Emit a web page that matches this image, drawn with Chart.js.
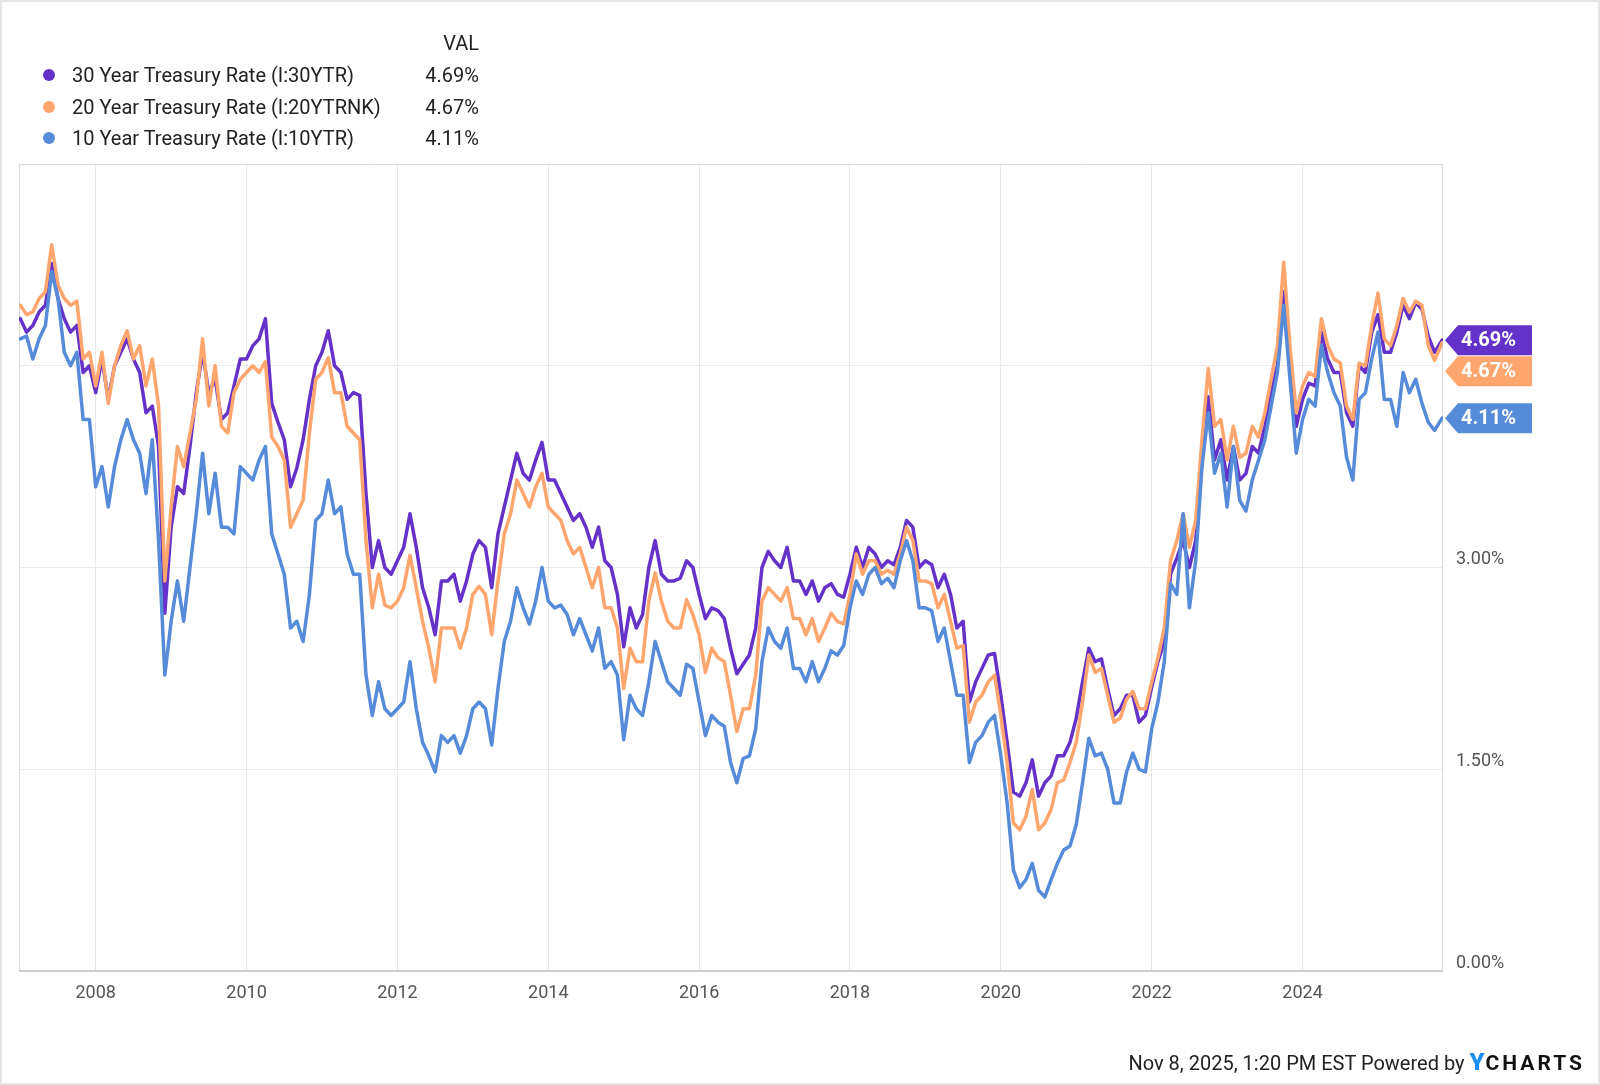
<!DOCTYPE html>
<html>
<head>
<meta charset="utf-8">
<script src="https://cdn.jsdelivr.net/npm/chart.js@4.4.0/dist/chart.umd.min.js"></script>
<style>
  html, body { margin: 0; padding: 0; background: #fff; }
  body { width: 1600px; height: 1085px; position: relative; overflow: hidden; font-family: Roboto, sans-serif; color: #222; }
  #frame { position: absolute; left: 0; top: 0; width: 1596px; height: 1081px; border: 2px solid #e6e6e6; pointer-events: none; }
  #ctx { position: absolute; left: 0; top: 0; }
  .lg { position: absolute; font-size: 20px; line-height: 24px; white-space: nowrap; }
  .dot { position: absolute; width: 12px; height: 12px; border-radius: 6px; }
  .val { position: absolute; font-size: 20px; line-height: 24px; text-align: right; width: 100px; }
  #foot { position: absolute; right: 15px; top: 1049px; font-size: 20px; line-height: 26px; white-space: nowrap; color: #222; }
  #foot .y { color: #1b8ef5; font-weight: 900; font-size: 24px; letter-spacing: 1px; }
  #foot .c { font-weight: 700; font-size: 21px; letter-spacing: 3px; color: #111; }
</style>
</head>
<body>
<canvas id="ctx" width="1600" height="1085"></canvas>
<div id="legend"></div>
<div id="foot">Nov 8, 2025, 1:20 PM EST Powered by <span class="y">Y</span><span class="c">CHARTS</span></div>
<div id="frame"></div>
<script>
// monthly readings, Jan 2007 .. Nov 7 2025
const dates = [
  "2007-01","2007-02","2007-03","2007-04","2007-05","2007-06","2007-07","2007-08","2007-09","2007-10","2007-11","2007-12",
  "2008-01","2008-02","2008-03","2008-04","2008-05","2008-06","2008-07","2008-08","2008-09","2008-10","2008-11","2008-12",
  "2009-01","2009-02","2009-03","2009-04","2009-05","2009-06","2009-07","2009-08","2009-09","2009-10","2009-11","2009-12",
  "2010-01","2010-02","2010-03","2010-04","2010-05","2010-06","2010-07","2010-08","2010-09","2010-10","2010-11","2010-12",
  "2011-01","2011-02","2011-03","2011-04","2011-05","2011-06","2011-07","2011-08","2011-09","2011-10","2011-11","2011-12",
  "2012-01","2012-02","2012-03","2012-04","2012-05","2012-06","2012-07","2012-08","2012-09","2012-10","2012-11","2012-12",
  "2013-01","2013-02","2013-03","2013-04","2013-05","2013-06","2013-07","2013-08","2013-09","2013-10","2013-11","2013-12",
  "2014-01","2014-02","2014-03","2014-04","2014-05","2014-06","2014-07","2014-08","2014-09","2014-10","2014-11","2014-12",
  "2015-01","2015-02","2015-03","2015-04","2015-05","2015-06","2015-07","2015-08","2015-09","2015-10","2015-11","2015-12",
  "2016-01","2016-02","2016-03","2016-04","2016-05","2016-06","2016-07","2016-08","2016-09","2016-10","2016-11","2016-12",
  "2017-01","2017-02","2017-03","2017-04","2017-05","2017-06","2017-07","2017-08","2017-09","2017-10","2017-11","2017-12",
  "2018-01","2018-02","2018-03","2018-04","2018-05","2018-06","2018-07","2018-08","2018-09","2018-10","2018-11","2018-12",
  "2019-01","2019-02","2019-03","2019-04","2019-05","2019-06","2019-07","2019-08","2019-09","2019-10","2019-11","2019-12",
  "2020-01","2020-02","2020-03","2020-04","2020-05","2020-06","2020-07","2020-08","2020-09","2020-10","2020-11","2020-12",
  "2021-01","2021-02","2021-03","2021-04","2021-05","2021-06","2021-07","2021-08","2021-09","2021-10","2021-11","2021-12",
  "2022-01","2022-02","2022-03","2022-04","2022-05","2022-06","2022-07","2022-08","2022-09","2022-10","2022-11","2022-12",
  "2023-01","2023-02","2023-03","2023-04","2023-05","2023-06","2023-07","2023-08","2023-09","2023-10","2023-11","2023-12",
  "2024-01","2024-02","2024-03","2024-04","2024-05","2024-06","2024-07","2024-08","2024-09","2024-10","2024-11","2024-12",
  "2025-01","2025-02","2025-03","2025-04","2025-05","2025-06","2025-07","2025-08","2025-09","2025-10","2025-11-07"
];

const rate30 = [
  4.85, 4.75, 4.80, 4.90, 4.95, 5.26, 5.00, 4.85, 4.75, 4.80, 4.45, 4.50,
  4.30, 4.55, 4.25, 4.50, 4.60, 4.70, 4.55, 4.45, 4.15, 4.20, 3.90, 2.66,
  3.30, 3.60, 3.55, 3.90, 4.30, 4.60, 4.30, 4.40, 4.10, 4.15, 4.35, 4.55,
  4.55, 4.65, 4.70, 4.85, 4.22, 4.08, 3.95, 3.60, 3.74, 3.95, 4.25, 4.50,
  4.60, 4.76, 4.50, 4.45, 4.25, 4.30, 4.28, 3.55, 3.00, 3.20, 3.00, 2.95,
  3.05, 3.15, 3.40, 3.15, 2.85, 2.70, 2.50, 2.90, 2.90, 2.95, 2.75, 2.90,
  3.10, 3.20, 3.15, 2.85, 3.25, 3.45, 3.65, 3.85, 3.70, 3.65, 3.80, 3.93,
  3.65, 3.65, 3.55, 3.45, 3.35, 3.40, 3.30, 3.15, 3.30, 3.05, 3.00, 2.80,
  2.41, 2.70, 2.55, 2.65, 3.00, 3.20, 2.95, 2.90, 2.90, 2.92, 3.05, 3.00,
  2.80, 2.62, 2.70, 2.68, 2.62, 2.40, 2.21, 2.28, 2.35, 2.55, 3.00, 3.12,
  3.05, 3.00, 3.15, 2.90, 2.90, 2.80, 2.90, 2.75, 2.85, 2.88, 2.80, 2.78,
  2.95, 3.15, 3.00, 3.15, 3.10, 3.00, 3.05, 3.02, 3.15, 3.35, 3.30, 3.00,
  3.05, 3.02, 2.85, 2.95, 2.80, 2.55, 2.60, 2.00, 2.15, 2.25, 2.35, 2.36,
  2.05, 1.70, 1.33, 1.30, 1.40, 1.57, 1.30, 1.40, 1.45, 1.60, 1.60, 1.70,
  1.88, 2.15, 2.40, 2.30, 2.32, 2.10, 1.90, 1.95, 2.05, 2.05, 1.85, 1.90,
  2.11, 2.30, 2.45, 2.95, 3.07, 3.20, 3.00, 3.20, 3.80, 4.27, 3.80, 3.95,
  3.65, 3.90, 3.65, 3.70, 3.90, 3.85, 4.05, 4.30, 4.50, 5.05, 4.50, 4.05,
  4.25, 4.37, 4.35, 4.75, 4.55, 4.45, 4.45, 4.15, 4.05, 4.50, 4.45, 4.75,
  4.88, 4.60, 4.60, 4.75, 4.95, 4.85, 4.97, 4.92, 4.72, 4.60, 4.69
];

const rate20 = [
  4.95, 4.88, 4.90, 5.00, 5.05, 5.40, 5.10, 5.00, 4.95, 4.98, 4.55, 4.60,
  4.35, 4.60, 4.22, 4.50, 4.65, 4.76, 4.55, 4.65, 4.35, 4.55, 4.20, 2.90,
  3.45, 3.90, 3.75, 4.00, 4.25, 4.70, 4.20, 4.50, 4.05, 4.00, 4.30, 4.40,
  4.45, 4.50, 4.45, 4.53, 3.97, 3.90, 3.80, 3.30, 3.40, 3.50, 4.00, 4.40,
  4.45, 4.56, 4.30, 4.30, 4.05, 4.00, 3.95, 3.20, 2.70, 2.95, 2.72, 2.70,
  2.75, 2.85, 3.09, 2.85, 2.60, 2.40, 2.15, 2.55, 2.55, 2.55, 2.40, 2.55,
  2.80, 2.86, 2.80, 2.50, 2.90, 3.25, 3.40, 3.65, 3.55, 3.45, 3.60, 3.70,
  3.45, 3.40, 3.35, 3.20, 3.10, 3.15, 3.00, 2.85, 3.00, 2.70, 2.70, 2.55,
  2.10, 2.40, 2.30, 2.30, 2.75, 2.96, 2.75, 2.60, 2.55, 2.55, 2.76, 2.65,
  2.50, 2.22, 2.40, 2.33, 2.30, 2.05, 1.78, 1.95, 1.95, 2.20, 2.75, 2.85,
  2.80, 2.75, 2.85, 2.62, 2.62, 2.50, 2.62, 2.45, 2.55, 2.66, 2.60, 2.58,
  2.80, 3.10, 2.95, 3.05, 3.05, 2.95, 2.98, 2.95, 3.10, 3.30, 3.20, 2.90,
  2.90, 2.88, 2.70, 2.80, 2.60, 2.40, 2.42, 1.85, 2.00, 2.05, 2.15, 2.20,
  1.90, 1.55, 1.10, 1.05, 1.15, 1.35, 1.05, 1.10, 1.20, 1.40, 1.42, 1.55,
  1.70, 2.00, 2.35, 2.22, 2.25, 2.05, 1.85, 1.88, 2.02, 2.08, 1.95, 1.95,
  2.15, 2.33, 2.55, 3.05, 3.20, 3.40, 3.15, 3.35, 3.95, 4.48, 4.05, 4.10,
  3.80, 4.05, 3.82, 3.85, 4.05, 3.97, 4.15, 4.40, 4.65, 5.27, 4.65, 4.15,
  4.35, 4.45, 4.42, 4.85, 4.65, 4.55, 4.52, 4.20, 4.10, 4.52, 4.50, 4.80,
  5.04, 4.70, 4.65, 4.80, 5.00, 4.90, 4.98, 4.95, 4.65, 4.54, 4.67
];

const rate10 = [
  4.70, 4.72, 4.55, 4.70, 4.80, 5.20, 5.00, 4.60, 4.50, 4.60, 4.10, 4.10,
  3.60, 3.75, 3.45, 3.75, 3.95, 4.10, 3.95, 3.85, 3.55, 3.95, 3.20, 2.20,
  2.60, 2.90, 2.60, 3.00, 3.40, 3.85, 3.40, 3.70, 3.30, 3.30, 3.25, 3.75,
  3.70, 3.65, 3.80, 3.90, 3.25, 3.10, 2.95, 2.55, 2.60, 2.45, 2.80, 3.35,
  3.40, 3.65, 3.40, 3.45, 3.10, 2.95, 2.95, 2.20, 1.90, 2.15, 1.95, 1.90,
  1.95, 2.00, 2.30, 1.95, 1.70, 1.60, 1.48, 1.75, 1.70, 1.75, 1.62, 1.75,
  1.95, 2.00, 1.95, 1.68, 2.10, 2.45, 2.60, 2.85, 2.70, 2.58, 2.75, 3.00,
  2.75, 2.70, 2.72, 2.65, 2.50, 2.62, 2.50, 2.38, 2.55, 2.25, 2.30, 2.20,
  1.72, 2.05, 1.95, 1.90, 2.15, 2.45, 2.30, 2.15, 2.10, 2.05, 2.28, 2.25,
  2.00, 1.75, 1.90, 1.85, 1.82, 1.55, 1.40, 1.58, 1.60, 1.80, 2.30, 2.55,
  2.45, 2.40, 2.55, 2.25, 2.25, 2.15, 2.30, 2.15, 2.25, 2.38, 2.35, 2.42,
  2.70, 2.90, 2.80, 2.95, 3.00, 2.88, 2.92, 2.85, 3.05, 3.20, 3.05, 2.70,
  2.70, 2.68, 2.45, 2.55, 2.30, 2.05, 2.05, 1.55, 1.70, 1.75, 1.85, 1.90,
  1.60, 1.25, 0.75, 0.62, 0.68, 0.80, 0.60, 0.55, 0.68, 0.80, 0.90, 0.93,
  1.09, 1.40, 1.73, 1.60, 1.62, 1.50, 1.25, 1.25, 1.48, 1.62, 1.50, 1.48,
  1.80, 2.00, 2.30, 2.88, 2.80, 3.40, 2.70, 3.05, 3.75, 4.15, 3.70, 3.85,
  3.45, 3.90, 3.50, 3.42, 3.65, 3.80, 3.95, 4.20, 4.45, 4.95, 4.40, 3.85,
  4.10, 4.25, 4.20, 4.65, 4.45, 4.30, 4.20, 3.82, 3.65, 4.25, 4.30, 4.55,
  4.75, 4.25, 4.25, 4.05, 4.45, 4.30, 4.40, 4.22, 4.08, 4.02, 4.11
];

const seriesNames = ["30 Year Treasury Rate (I:30YTR)", "20 Year Treasury Rate (I:20YTRNK)", "10 Year Treasury Rate (I:10YTR)"];
const seriesColors = ["#6432c8", "#ffa56e", "#558bd9"];
const xTicks = [2008, 2010, 2012, 2014, 2016, 2018, 2020, 2022, 2024];
const yTicks = [0, 1.5, 3, 4.5, 6];

function toYear(s) {
  const p = s.split("-").map(Number);
  const day = p[2] || 1;
  return p[0] + (p[1] - 1) / 12 + (day - 1) / 365;
}

function points(vals) {
  return vals.map((v, i) => ({ x: toYear(dates[i]), y: v }));
}

// legend (html)
const legend = document.getElementById("legend");
legend.innerHTML = '<div class="val" style="left:379px;top:31px">VAL</div>';
const allVals = [rate30, rate20, rate10];
const rowY = [75, 107, 138];
for (let i = 0; i < 3; i++) {
  const last = allVals[i][allVals[i].length - 1];
  legend.innerHTML +=
    '<div class="dot" style="left:43px;top:' + (rowY[i] - 6) + 'px;background:' + seriesColors[i] + '"></div>' +
    '<div class="lg" style="left:72px;top:' + (rowY[i] - 12) + 'px">' + seriesNames[i] + '</div>' +
    '<div class="val" style="left:379px;top:' + (rowY[i] - 12) + 'px">' + last.toFixed(2) + '%</div>';
}

const frameLines = {
  id: "frameLines",
  beforeDatasetsDraw(chart) {
    const c = chart.ctx, a = chart.chartArea;
    c.save();
    c.strokeStyle = "#d9d9d9";
    c.lineWidth = 1;
    c.beginPath();
    c.moveTo(a.left + 0.5, a.bottom);
    c.lineTo(a.left + 0.5, a.top + 0.5);
    c.lineTo(a.right - 0.5, a.top + 0.5);
    c.lineTo(a.right - 0.5, a.bottom);
    c.stroke();
    c.strokeStyle = "#cccccc";
    c.lineWidth = 2;
    c.beginPath();
    c.moveTo(a.left, a.bottom);
    c.lineTo(a.right, a.bottom);
    c.stroke();
    c.restore();
  }
};

const endLabels = {
  id: "endLabels",
  afterDatasetsDraw(chart) {
    const c = chart.ctx, a = chart.chartArea, ys = chart.scales.y;
    const items = [];
    for (let i = 0; i < 3; i++) {
      const v = allVals[i][allVals[i].length - 1];
      items.push({ v: v, color: seriesColors[i], py: ys.getPixelForValue(v) });
    }
    items.sort((p, q) => p.py - q.py);
    for (let i = 1; i < items.length; i++) {
      if (items[i].py < items[i - 1].py + 31) items[i].py = items[i - 1].py + 31;
    }
    c.save();
    items.forEach(it => {
      const tip = a.right + 2, left = a.right + 15, right = a.right + 89, h = 15;
      c.fillStyle = it.color;
      c.beginPath();
      c.moveTo(tip, it.py);
      c.lineTo(left, it.py - h);
      c.lineTo(right, it.py - h);
      c.lineTo(right, it.py + h);
      c.lineTo(left, it.py + h);
      c.closePath();
      c.fill();
      c.fillStyle = "#fff";
      c.font = "bold 20px Roboto";
      c.textAlign = "left";
      c.textBaseline = "middle";
      c.fillText(it.v.toFixed(2) + "%", left + 3, it.py + 1);
    });
    c.restore();
  }
};

const lineStyle = { borderWidth: 3.5, pointRadius: 0, tension: 0, borderJoinStyle: "round", borderCapStyle: "round" };

new Chart(document.getElementById("ctx"), {
  type: "line",
  data: {
    datasets: [
      Object.assign({ label: seriesNames[2], data: points(rate10), borderColor: seriesColors[2] }, lineStyle),
      Object.assign({ label: seriesNames[1], data: points(rate20), borderColor: seriesColors[1] }, lineStyle),
      Object.assign({ label: seriesNames[0], data: points(rate30), borderColor: seriesColors[0] }, lineStyle)
    ]
  },
  options: {
    responsive: false,
    animation: false,
    events: [],
    layout: { padding: { left: 19, top: 164, right: 0, bottom: 0 } },
    plugins: { legend: { display: false }, tooltip: { enabled: false } },
    scales: {
      x: {
        type: "linear",
        min: 2006.983,
        max: 2025.862,
        afterBuildTicks: s => { s.ticks = xTicks.map(v => ({ value: v })); },
        afterFit: s => { s.height = 114; },
        grid: { color: "#e8e8e8", lineWidth: 1, drawTicks: false },
        border: { display: false },
        ticks: { color: "#555", font: { family: "Roboto", size: 18 }, padding: 12, maxRotation: 0, autoSkip: false, callback: v => String(v) }
      },
      y: {
        position: "right",
        min: 0,
        max: 6,
        afterBuildTicks: s => { s.ticks = yTicks.map(v => ({ value: v })); },
        afterFit: s => { s.width = 157; },
        grid: { color: "#ebebeb", lineWidth: 1, drawTicks: false },
        border: { display: false },
        ticks: { color: "#555", font: { family: "Roboto", size: 18 }, padding: 13, labelOffset: -8, callback: v => (v <= 3 ? v.toFixed(2) + "%" : "") }
      }
    }
  },
  plugins: [frameLines, endLabels]
});
</script>
</body>
</html>
